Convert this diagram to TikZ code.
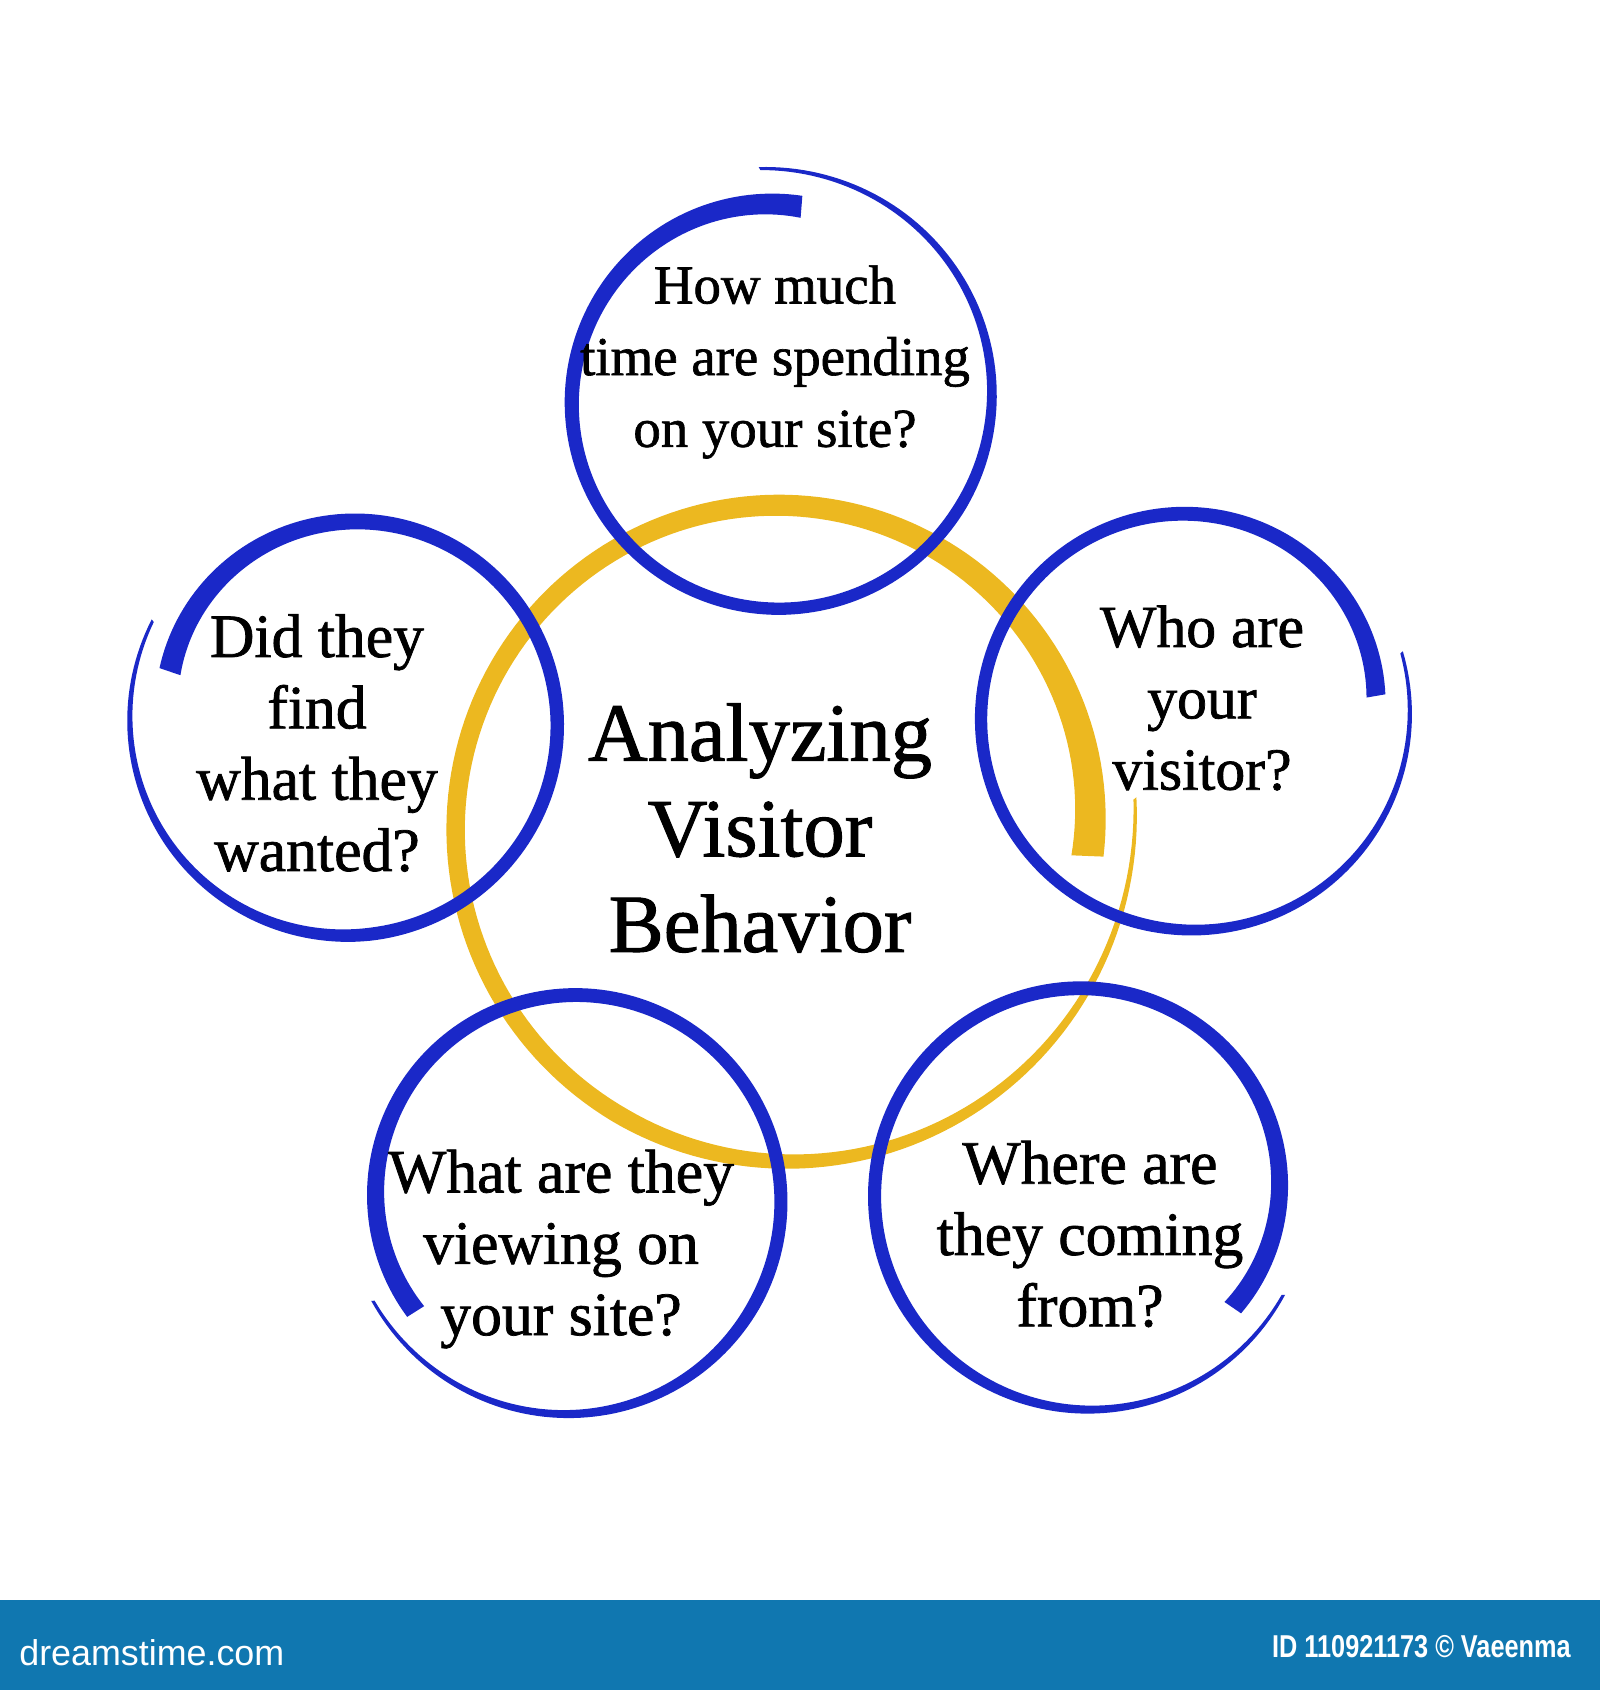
\documentclass[tikz,border=0pt]{standalone}
\usepackage{fontspec}
\setmainfont{Liberation Serif}[BoldFont=Liberation Serif, BoldFeatures={FakeBold=1.2}]
\newfontfamily\bannerfont{Liberation Sans}
\definecolor{ringblue}{RGB}{26,40,200}
\definecolor{ringgold}{RGB}{236,184,32}
\definecolor{bannerblue}{RGB}{16,119,176}

\newcommand{\brushring}[9]{%
  \fill[inkring, declare function={rr(\q)=#6+(#5-#6)*(1-\q)^3+(#7-#6)*\q^4; ww(\q)=3+(#8-3)*min(1,3*\q)+(#9-#8)*\q^5;}]
    plot[domain=0:1, samples=200, variable=\s]
      ({#1+(rr(\s)+ww(\s)/2)*cos(#3+(#4)*\s)}, {#2+(rr(\s)+ww(\s)/2)*sin(#3+(#4)*\s)})
    -- plot[domain=0:1, samples=200, variable=\s]
      ({#1+(rr(1-\s)-ww(1-\s)/2)*cos(#3+(#4)*(1-\s))}, {#2+(rr(1-\s)-ww(1-\s)/2)*sin(#3+(#4)*(1-\s))})
    -- cycle;}

\begin{document}
\begin{tikzpicture}[x=0.02cm, y=-0.02cm,
    inkring/.style={fill=ringblue},
    question/.style={align=center, inner sep=0pt, font=\bfseries\fontsize{35.1}{40.6}\selectfont}]
    \useasboundingbox (0,0) rectangle (1600,1690);

    \begin{scope}[inkring/.style={fill=ringgold}]
    \brushring{783}{825}{-4.5}{370.5}{353}{325}{306}{18}{32}
    \end{scope}

    \foreach \cx/\cy/\ta/\tb/\ra/\rb/\rc/\wb/\wc in
        {775/400/-94/372/232/206/195/12/22,
         1191/716/-17/371/220/211/186/12/19,
         348/722/207.6/-372/220/211/185/13/22,
         573/1198/153/-369/225/204/194/13/20,
         1085/1193/27/371/223/208/187/13/20}
        \brushring{\cx}{\cy}{\ta}{\tb}{\ra}{\rb}{\rc}{\wb}{\wc};

    \node[align=center, inner sep=0pt, font=\bfseries\fontsize{47}{54.4}\selectfont] (core) at (760,828)
        {Analyzing\\Visitor\\Behavior};

    \node[question, font=\bfseries\fontsize{31.2}{40.8}\selectfont] (spend) at (775,362)
        {How much\\time are spending\\on your site?};
    \node[question, font=\bfseries\fontsize{34}{40.6}\selectfont] (who) at (1202,698)
        {Who are\\your\\visitor?};
    \node[question] (found) at (317,743)
        {Did they\\find\\what they\\wanted?};
    \node[question] (viewing) at (561,1249)
        {What are they\\viewing on\\your site?};
    \node[question] (origin) at (1090,1234)
        {Where are\\they coming\\from?};

    \fill[bannerblue] (0,1600) rectangle (1600,1690);
    \node[anchor=base west, text=white, inner sep=0pt, font=\bannerfont\fontsize{20.4}{24}\selectfont] (stock) at (19,1665)
        {dreamstime.com};
    \node[anchor=base east, text=white, inner sep=0pt, xscale=0.8, font=\bannerfont\bfseries\fontsize{18}{22}\selectfont] (imageid) at (1571,1657)
        {ID 110921173 © Vaeenma};
\end{tikzpicture}
\end{document}
